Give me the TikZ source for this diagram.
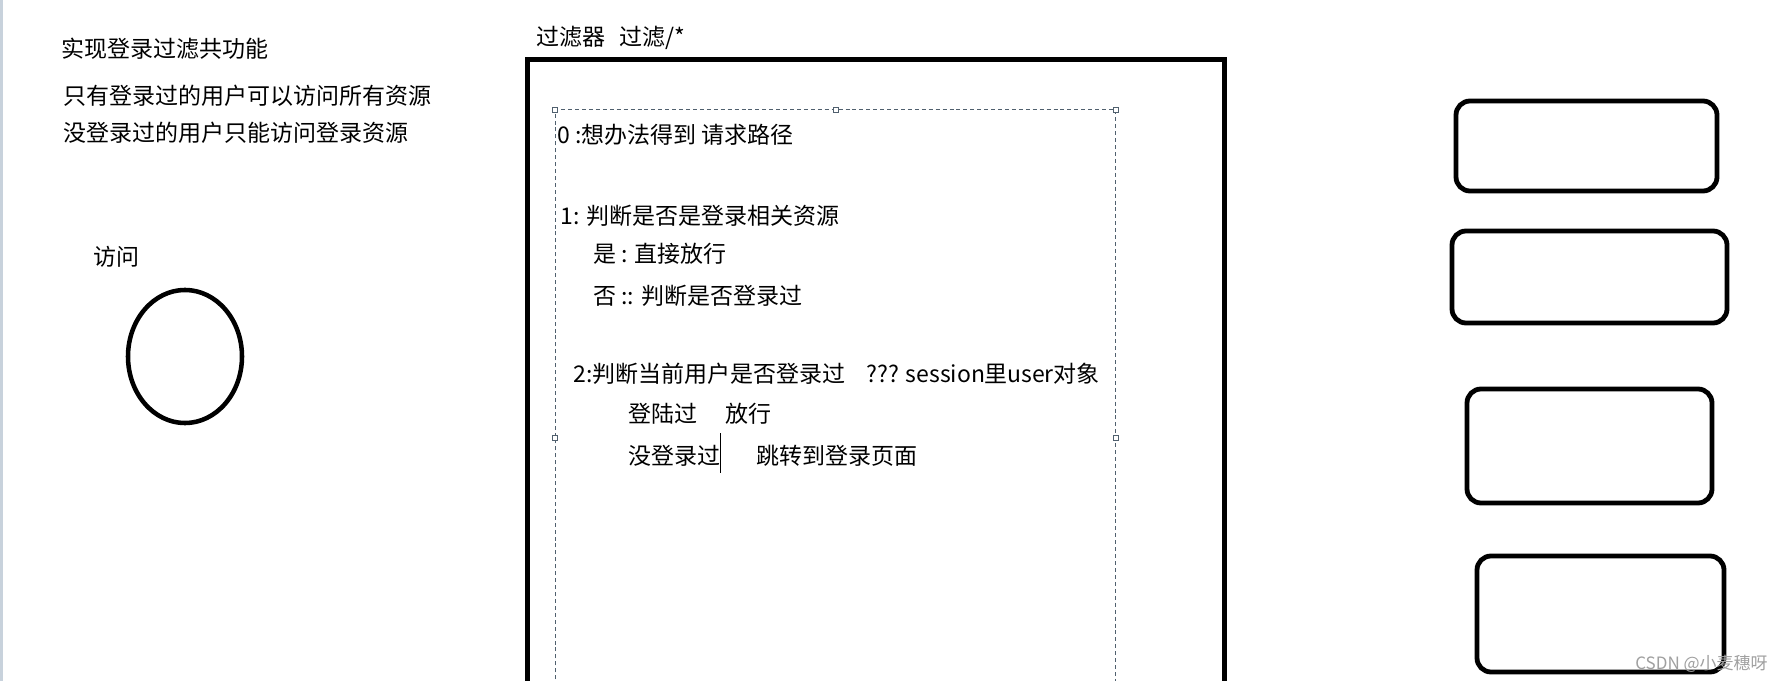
\documentclass[tikz,border=0pt]{standalone}
\usepackage{fontspec}
\newfontfamily\cjk{Noto Sans CJK SC}
\definecolor{strip}{HTML}{C8D2DC}
\definecolor{dashc}{HTML}{50606E}
\definecolor{wmark}{HTML}{A0A0A0}
\begin{document}
\begin{tikzpicture}[x=0.75pt,y=-0.75pt,
  txt/.style={anchor=base west, inner sep=0pt, font=\cjk\fontsize{17.25pt}{20pt}\selectfont, text=black},
  thick box/.style={draw=black, line width=3.75pt},
  rbox/.style={draw=black, line width=3.6pt, rounded corners=10.5pt},
  selbox/.style={draw=dashc, line width=0.75pt, dash pattern=on 3pt off 2.2pt},
  handle/.style={draw=dashc, fill=white, line width=0.6pt, minimum size=3.8pt, inner sep=0pt, shape=rectangle},
  wm/.style={anchor=base west, inner sep=0pt, font=\cjk\fontsize{12.75pt}{14pt}\selectfont, text=wmark}]
\useasboundingbox (0,0) rectangle (1786,681);
\clip (0,0) rectangle (1786,681);
\fill[white] (0,0) rectangle (1786,681);
\fill[strip] (0,0) rectangle (3,681);

% left texts
\node[txt] (l1) at (61,58) {实现登录过滤共功能};
\node[txt] (l2) at (63,105) {只有登录过的用户可以访问所有资源};
\node[txt] (l3) at (63,141.5) {没登录过的用户只能访问登录资源};
\node[txt] (visit) at (93,266) {访问};
\draw[line width=3.4pt] (185,356.5) ellipse [x radius=42.75pt, y radius=49.9pt];

% filter box
\node[txt] (f1) at (536,46) {过滤器};
\node[txt] (f2) at (619,46) {过滤/*};
\draw[thick box] (527,700) -- (527,59.5) -- (1224,59.5) -- (1224,700);

% selection (dashed) box
\draw[selbox] (555,700) -- (555,110) -- (1115.5,110) -- (1115.5,700);
\node[handle] (h1) at (555,110) {};
\node[handle] (h2) at (836,110) {};
\node[handle] (h3) at (1115.5,110) {};
\node[handle] (h4) at (555,438) {};
\node[handle] (h5) at (1115.5,438) {};

% steps
\node[txt] (s0) at (557,144) {0 :想办法得到 请求路径};
\node[txt] (s1) at (560,224) {1: 判断是否是登录相关资源};
\node[txt] (s1a) at (593,262.5) {是 : 直接放行};
\node[txt] (s1b) at (593,304) {否 :: 判断是否登录过};
\node[txt] (s2) at (573,382.5) {2:判断当前用户是否登录过};
\node[txt] (s2q) at (866,382.5) {??? session};
\node[txt] (s2u) at (984,382.5) {里user对象};
\node[txt] (s2a) at (628,422.5) {登陆过};
\node[txt] (s2b) at (725,422.5) {放行};
\node[txt] (s2c) at (628,464) {没登录过};
\node[txt] (s2d) at (756,464) {跳转到登录页面};
\draw[line width=0.75pt] (720,433) -- (720,473);

% right rounded boxes
\draw[rbox] (1456,101) rectangle (1717,191);
\draw[rbox] (1452,231) rectangle (1727,323);
\draw[rbox] (1467,389) rectangle (1712,503);
\draw[rbox] (1477,556) rectangle (1724,672);

% watermark
\node[wm] (wmk) at (1635,669) {CSDN @小麦穗呀};
\end{tikzpicture}
\end{document}
